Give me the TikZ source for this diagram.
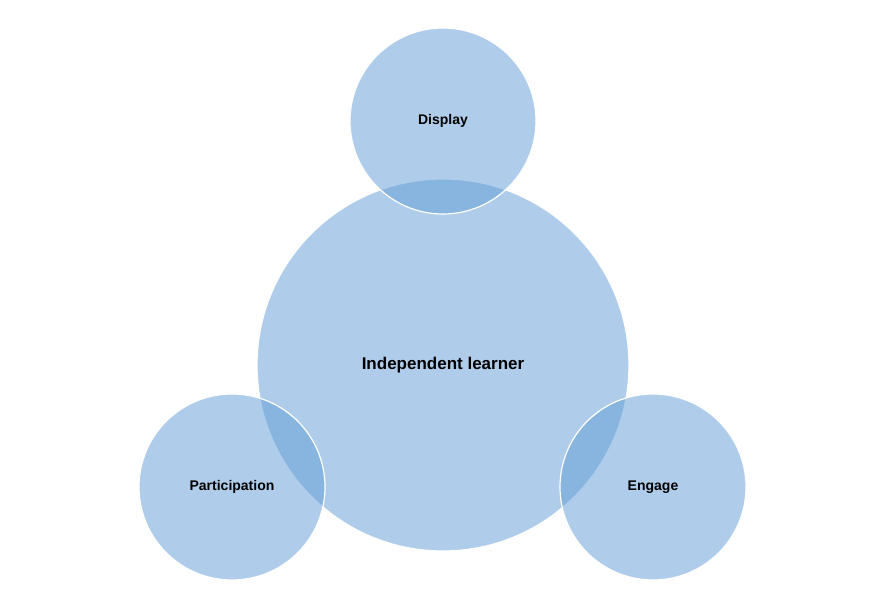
\documentclass[tikz,border=0pt]{standalone}
\usepackage{fontspec}
\setmainfont{Liberation Sans}
\definecolor{cb}{RGB}{98,157,214}
\begin{document}
\begin{tikzpicture}[x=1pt,y=-1pt,
  circ/.style={circle,fill=cb,fill opacity=0.51,draw=white,line width=1.2pt,inner sep=0pt,text opacity=1,font=\bfseries}]
\useasboundingbox (0,0) rectangle (886,609);
\node[circ,minimum size=372pt,font=\bfseries\fontsize{17}{20}\selectfont] (c) at (443,365) {Independent learner};
\node[circ,minimum size=186pt,font=\bfseries\fontsize{14}{17}\selectfont] (d) at (443,121) {Display};
\node[circ,minimum size=186pt,font=\bfseries\fontsize{14}{17}\selectfont] (p) at (232,487) {Participation};
\node[circ,minimum size=186pt,font=\bfseries\fontsize{14}{17}\selectfont] (e) at (653,487) {Engage};
\end{tikzpicture}
\end{document}
